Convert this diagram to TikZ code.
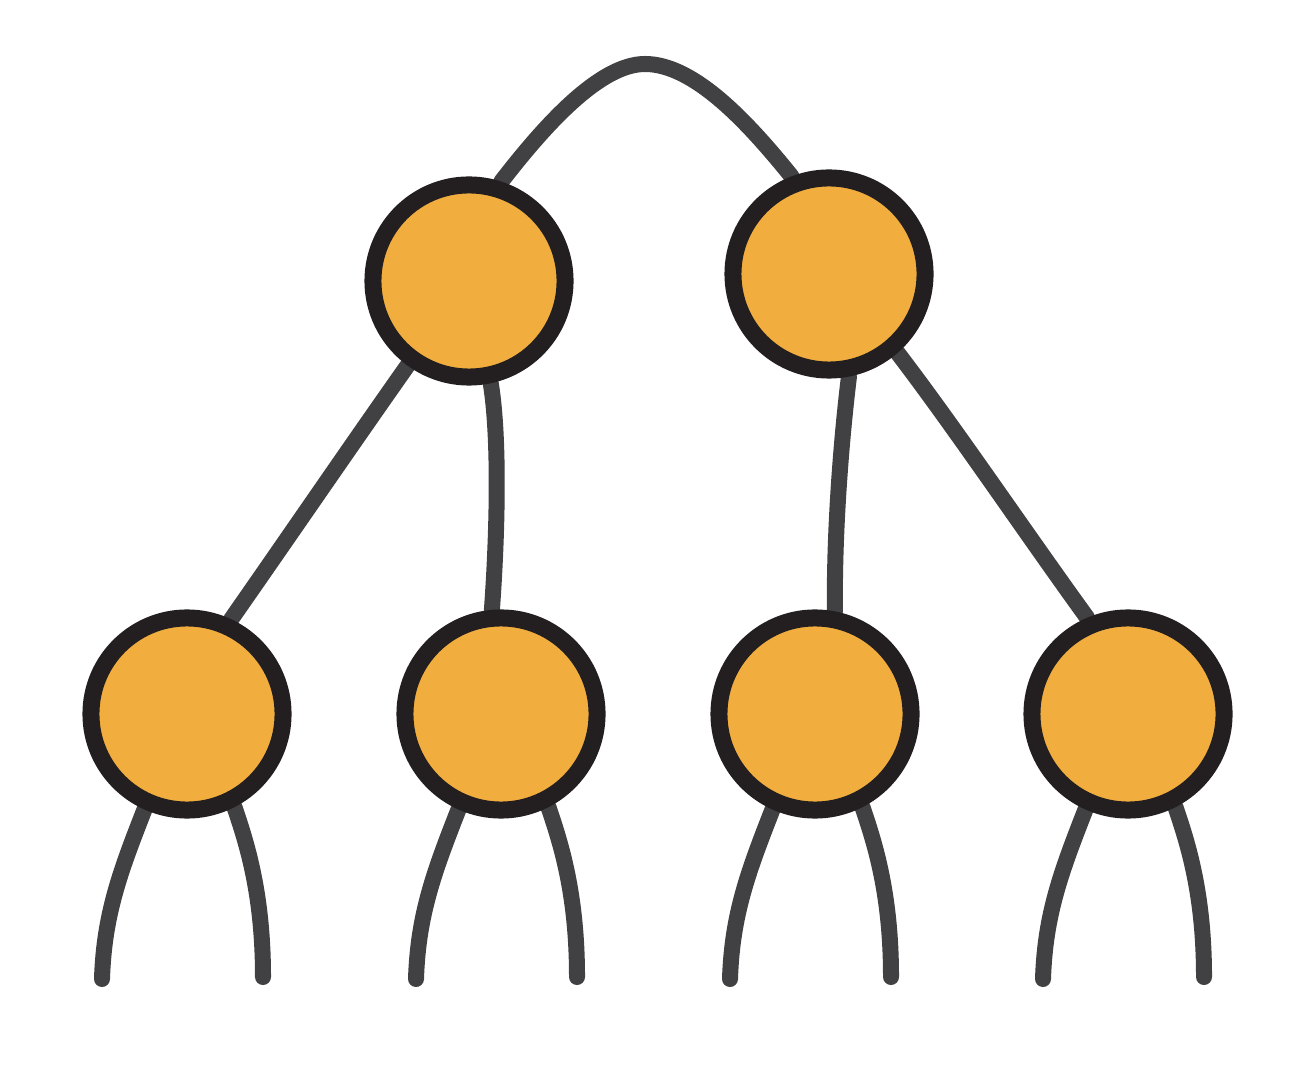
\documentclass[tikz,border=0pt]{standalone}
\usetikzlibrary{backgrounds}
\definecolor{blobfill}{RGB}{241,174,63}
\definecolor{blobline}{RGB}{35,31,32}
\definecolor{linkgray}{RGB}{65,65,67}
\tikzset{
    blob/.style={circle, draw=blobline, fill=blobfill, line width=0.17cm, minimum size=1.92cm, inner sep=0pt},
    link/.style={draw=linkgray, line width=0.16cm, line cap=round}
}

\begin{document}
\begin{tikzpicture}[x=0.01cm, y=-0.01cm]
    \useasboundingbox (0,0) rectangle (1316,1080);
    % middle row
    \node[blob] (ml) at (469,281) {};
    \node[blob] (mr) at (829,274) {};
    % bottom row
    \node[blob] (b1) at (187,714) {};
    \node[blob] (b2) at (501,714) {};
    \node[blob] (b3) at (815,714) {};
    \node[blob] (b4) at (1128,714) {};
    \coordinate (peak) at (645,64);
    \begin{scope}[on background layer]
        % top arc
        \draw[link] (ml.72) .. controls (545,125) and (600,64) .. (peak)
            .. controls (695,64) and (750,125) .. (mr.111);
        % middle to bottom
        \draw[link] (ml.234) .. controls (355,440) and (290,535) .. (b1.65);
        \draw[link] (ml.282) .. controls (500,440) and (497,540) .. (b2.95);
        \draw[link] (mr.281) .. controls (840,450) and (834,540) .. (b3.79);
        \draw[link] (mr.311) .. controls (955,428) and (1025,532) .. (b4.113);
        % legs
        \foreach \n in {b1,b2,b3,b4}{
            \begin{scope}[shift={(\n)}]
                \coordinate (\n-l) at (-85,265);
                \coordinate (\n-r) at (76,263);
                \draw[link] (\n.246) .. controls (-67,158) and (-83,201) .. (\n-l);
                \draw[link] (\n.297) .. controls (60,130) and (76,180) .. (\n-r);
            \end{scope}
        }
    \end{scope}
\end{tikzpicture}
\end{document}
